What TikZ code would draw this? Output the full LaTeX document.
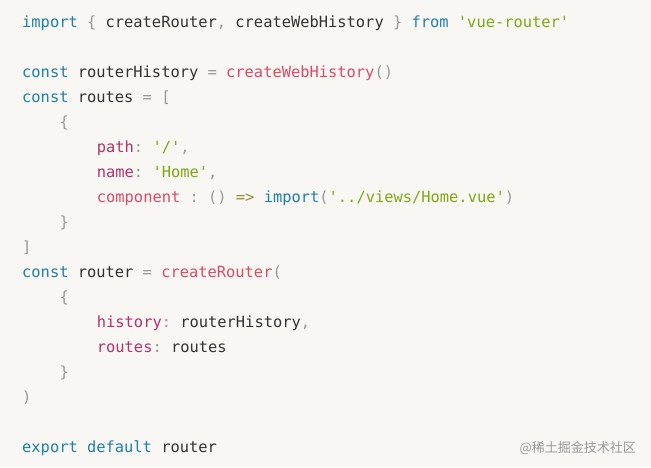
\documentclass[tikz,border=0pt]{standalone}
\usepackage{fontspec}
\setmonofont{DejaVu Sans Mono}
\newfontfamily\cjkfont{Noto Sans CJK SC}
\definecolor{bgpage}{HTML}{F8F7F4}
\definecolor{kwblue}{HTML}{1F7FAD}
\definecolor{fnred}{HTML}{DD4A68}
\definecolor{strgreen}{HTML}{7EA816}
\definecolor{propmag}{HTML}{B5306F}
\definecolor{punctgray}{HTML}{999999}
\definecolor{opolive}{HTML}{9A8A3A}
\definecolor{plaintxt}{HTML}{333333}
\newcommand{\kw}[1]{\textcolor{kwblue}{#1}}
\newcommand{\fn}[1]{\textcolor{fnred}{#1}}
\newcommand{\str}[1]{\textcolor{strgreen}{#1}}
\newcommand{\prop}[1]{\textcolor{propmag}{#1}}
\newcommand{\pun}[1]{\textcolor{punctgray}{#1}}
\begin{document}
\begin{tikzpicture}[
        x=1pt, y=1pt,
        code/.style={anchor=base west, inner sep=0pt, text=plaintxt,
            font=\ttfamily\fontsize{15.4}{18}\selectfont}, % Стиль строк кода
        wmark/.style={anchor=base east, inner sep=0pt, text=punctgray,
            font=\cjkfont\fontsize{13}{16}\selectfont},
    ]
    \fill[bgpage] (0,0) rectangle (651,-467);
    \useasboundingbox (0,0) rectangle (651,-467);

    \node[code] (l1) at (22,-27) {\kw{import} \pun{\{} createRouter\pun{,} createWebHistory \pun{\}} \kw{from} \str{'vue-router'}};
    \node[code] (l3) at (22,-77) {\kw{const} routerHistory \pun{=} \fn{createWebHistory}\pun{()}};
    \node[code] (l4) at (22,-102) {\kw{const} routes \pun{=} \pun{[}};
    \node[code] (l5) at (59.4,-127) {\pun{\{}};
    \node[code] (l6) at (96.7,-152) {\prop{path}\pun{:} \str{'/'}\pun{,}};
    \node[code] (l7) at (96.7,-177) {\prop{name}\pun{:} \str{'Home'}\pun{,}};
    \node[code] (l8) at (96.7,-202) {\fn{component} \pun{:} \pun{()} \textcolor{opolive}{=>} \kw{import}\pun{(}\str{'../views/Home.vue'}\pun{)}};
    \node[code] (l9) at (59.4,-227) {\pun{\}}};
    \node[code] (l10) at (22,-252) {\pun{]}};
    \node[code] (l11) at (22,-277) {\kw{const} router \pun{=} \fn{createRouter}\pun{(}};
    \node[code] (l12) at (59.4,-302) {\pun{\{}};
    \node[code] (l13) at (96.7,-327) {\prop{history}\pun{:} routerHistory\pun{,}};
    \node[code] (l14) at (96.7,-352) {\prop{routes}\pun{:} routes};
    \node[code] (l15) at (59.4,-377) {\pun{\}}};
    \node[code] (l16) at (22,-402) {\pun{)}};
    \node[code] (l18) at (22,-452) {\kw{export} \kw{default} router};

    \node[wmark] (wm) at (636,-452) {@稀土掘金技术社区};
\end{tikzpicture}
\end{document}
